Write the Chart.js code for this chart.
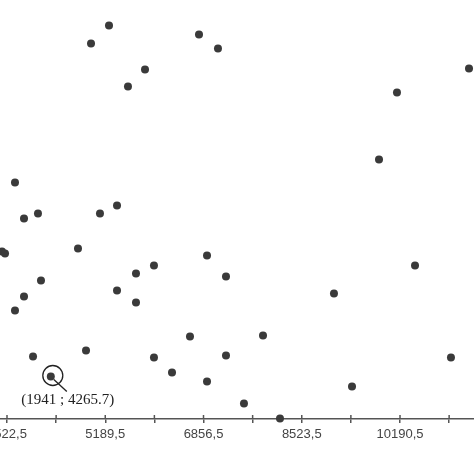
<!DOCTYPE html>
<html>
<head>
<meta charset="utf-8">
<script src="https://cdn.jsdelivr.net/npm/chart.js@4.4.1/dist/chart.umd.min.js"></script>
<style>
  html, body { margin: 0; padding: 0; background: #fff; }
  .frame { position: relative; width: 474px; height: 474px; overflow: hidden; }
  .wrap { position: absolute; left: -60px; top: 0; }
</style>
</head>
<body>
<div class="frame">
  <div class="wrap"><canvas id="chart" width="534" height="474"></canvas></div>
</div>
<script>
// values
const xValues = [5253, 4948, 6780, 7102, 5864, 5575, 3658, 3811, 4048, 5100,
  5389, 11361, 10139, 9834, 3438, 3489, 4727, 4099, 3811, 3658,
  5711, 6016, 5389, 5711, 6916, 7238, 6627, 3964, 4863, 6016,
  6322, 6916, 7238, 4265.7, 7543, 8154, 7866, 9070, 9376, 10445,
  11055];
const yValues = [17971, 17149, 17560, 16921, 15962, 15185, 10801, 9157, 9385, 9385,
  9750, 16007, 14911, 11851, 7650, 7558, 7787, 6325, 5595, 4955,
  6645, 7010, 5869, 5321, 7467, 6508, 3768, 2854, 3128, 2809,
  2124, 1713, 2900, 1941, 708, 20, 3813, 5732, 1484, 7010,
  2809];

const tickStart = 3522.5;
const tickStep = 833.5;
const tickValues = [-1, 0, 1, 2, 3, 4, 5, 6, 7, 8, 9].map(k => tickStart + k * tickStep);

// the marked point
const markX = 4265.7;
const markY = 1941;
const markLabel = '(1941 ; 4265.7)';

const points = xValues.map((x, i) => ({ x: x, y: yValues[i] }));

// tick marks also poke up above the axis line, plus the circled point
const extras = {
  id: 'extras',
  afterDraw(chart) {
    const ctx = chart.ctx;
    const xs = chart.scales.x;
    const ys = chart.scales.y;
    const base = chart.chartArea.bottom;
    ctx.save();
    ctx.strokeStyle = '#555';
    ctx.lineWidth = 1.5;
    tickValues.forEach(v => {
      const px = xs.getPixelForValue(v);
      ctx.beginPath();
      ctx.moveTo(px, base);
      ctx.lineTo(px, base - 4);
      ctx.stroke();
    });

    const px = xs.getPixelForValue(markX);
    const py = ys.getPixelForValue(markY);
    ctx.strokeStyle = '#222';
    ctx.lineWidth = 1.3;
    ctx.beginPath();
    ctx.arc(px + 2, py - 1, 10, 0, Math.PI * 2);
    ctx.stroke();
    ctx.beginPath();
    ctx.moveTo(px + 3, py + 3);
    ctx.lineTo(px + 16, py + 15);
    ctx.stroke();
    ctx.fillStyle = '#222';
    ctx.font = '15px "Liberation Serif", serif';
    ctx.textAlign = 'center';
    ctx.textBaseline = 'middle';
    ctx.fillText(markLabel, px + 17, py + 24);
    ctx.restore();
  }
};

const ctx = document.getElementById('chart').getContext('2d');
new Chart(ctx, {
  type: 'scatter',
  data: {
    datasets: [{
      data: points,
      backgroundColor: '#3a3a3a',
      borderWidth: 0,
      pointRadius: 4,
      pointHoverRadius: 4,
      clip: false
    }]
  },
  options: {
    responsive: false,
    devicePixelRatio: 1,
    animation: false,
    layout: { padding: 0, autoPadding: false },
    plugins: { legend: { display: false }, tooltip: { enabled: false } },
    scales: {
      x: {
        type: 'linear',
        min: 2385.7,
        max: 11445.8,
        afterBuildTicks: (scale) => {
          scale.ticks = tickValues.map(v => ({ value: v }));
        },
        afterFit: (scale) => { scale.height = 55; },
        grid: { drawOnChartArea: false, tickLength: 4, color: '#555', lineWidth: 1.5 },
        border: { color: '#555', width: 1.5 },
        ticks: {
          autoSkip: false,
          maxRotation: 0,
          padding: 4,
          color: '#444',
          font: { family: 'Liberation Sans, Arial, sans-serif', size: 13 },
          callback: (value) => {
            const k = Math.round((value - tickStart) / tickStep);
            return k % 2 === 0 ? value.toFixed(1).replace('.', ',') : '';
          }
        }
      },
      y: {
        display: false,
        min: 0,
        max: 19136
      }
    }
  },
  plugins: [extras]
});
</script>
</body>
</html>
